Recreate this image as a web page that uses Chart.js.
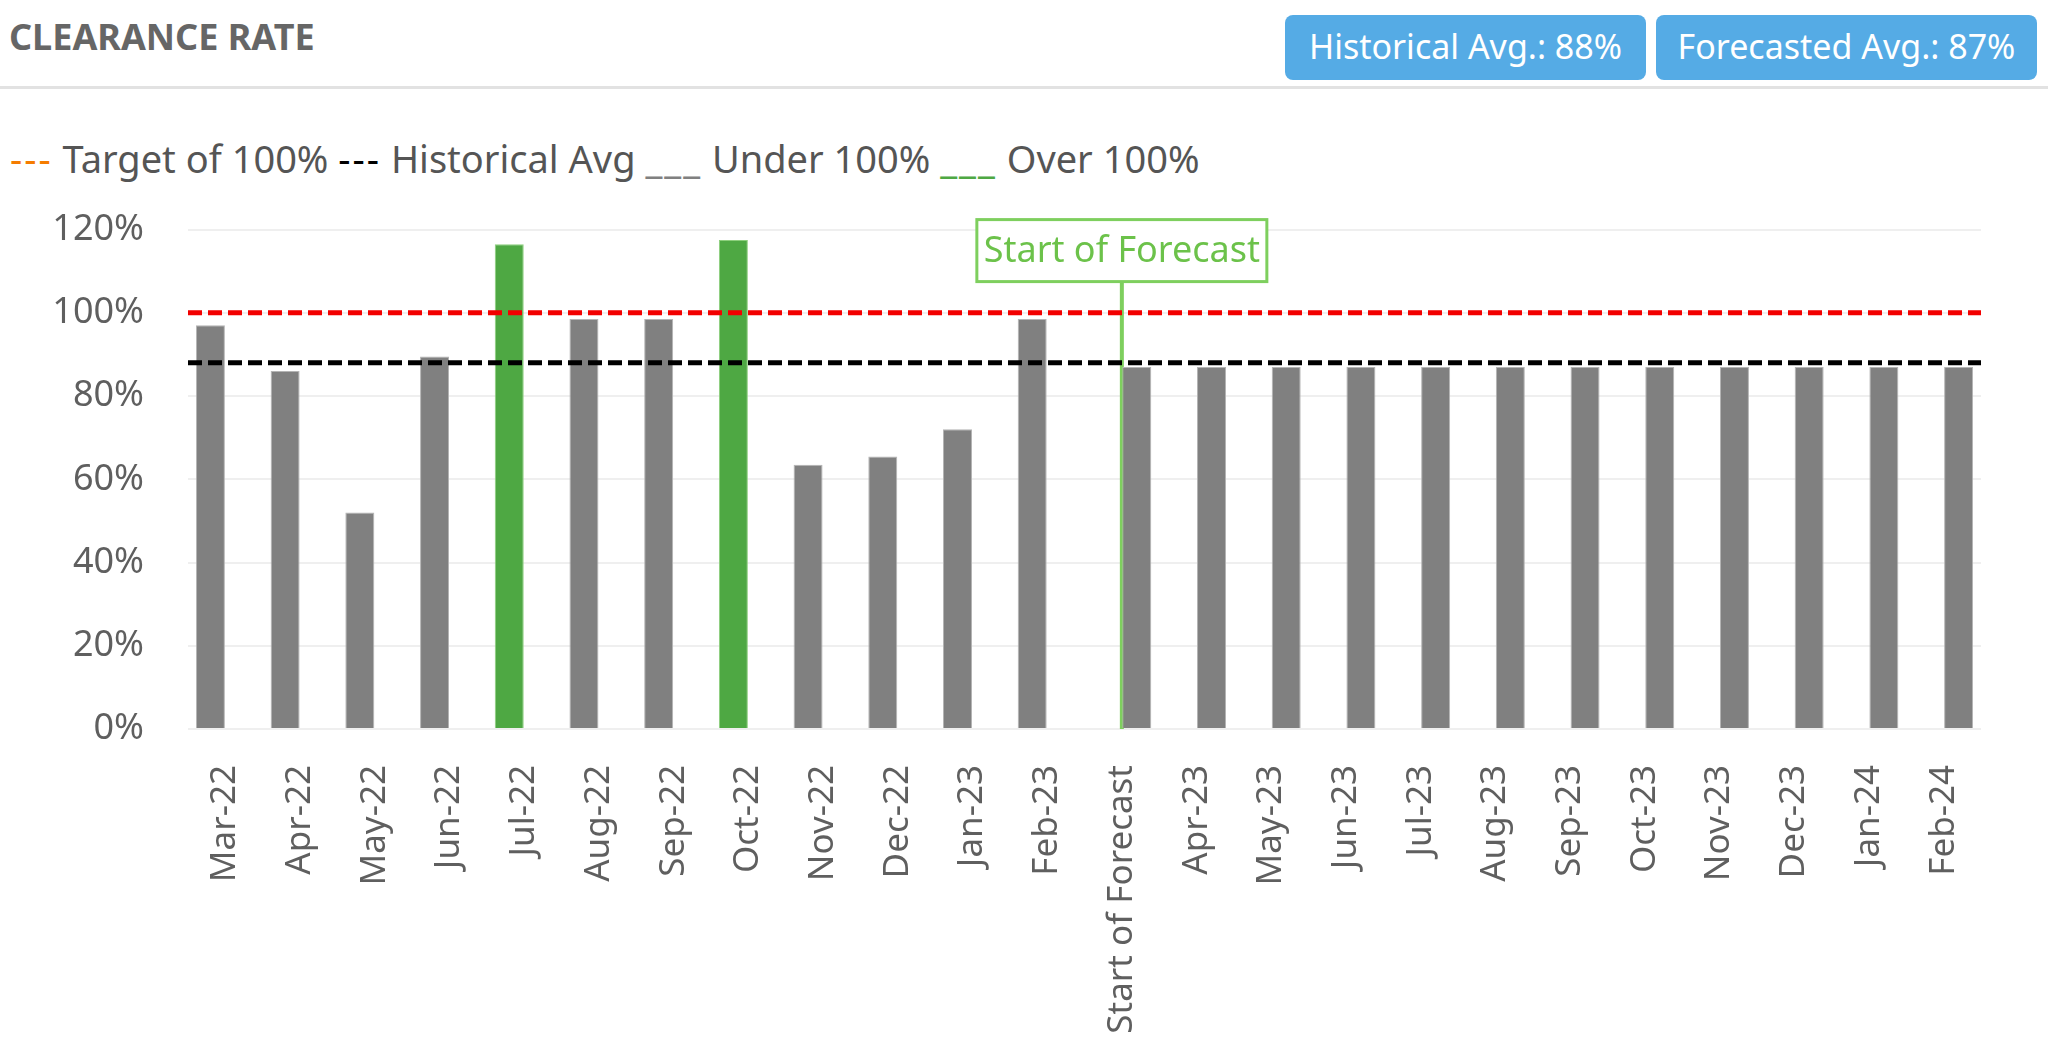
<!DOCTYPE html>
<html>
<head>
<meta charset="utf-8">
<script src="https://cdn.jsdelivr.net/npm/chart.js@4.4.0/dist/chart.umd.min.js"></script>
<style>
body{margin:0;background:#fff;font-family:"Noto Sans",sans-serif;width:2048px;height:1044px;overflow:hidden;position:relative;}
#head{position:absolute;left:0;top:0;width:2048px;height:86px;border-bottom:3px solid #e2e2e2;}
#title{position:absolute;left:9px;top:16px;font-size:36px;font-weight:700;color:#666;line-height:42px;}
.badge{position:absolute;top:15px;height:65px;background:#55abe5;color:#fff;border-radius:8px;font-size:34px;line-height:63px;text-align:center;}
#legend{position:absolute;left:10px;top:135px;font-size:38px;color:#555;white-space:nowrap;line-height:46px;}
#legend .k{letter-spacing:2px;}
#wrap{position:absolute;left:0;top:164px;width:2048px;height:880px;}
</style>
</head>
<body>
<div id="head">
  <div id="title">CLEARANCE RATE</div>
  <div class="badge" id="b1" style="left:1285px;width:361px;"></div>
  <div class="badge" id="b2" style="left:1656px;width:381px;"></div>
</div>
<div id="legend">
  <span class="k" style="color:#f57c00">---</span> Target of 100%
  <span class="k" style="color:#000">---</span> Historical Avg
  <span class="k" style="color:#808080">___</span> Under 100%
  <span class="k" style="color:#4ea843">___</span> Over 100%
</div>
<div id="wrap"><canvas id="chart" width="2048" height="880"></canvas></div>
<script>
'use strict';

const months = ['Mar-22','Apr-22','May-22','Jun-22','Jul-22','Aug-22','Sep-22','Oct-22','Nov-22','Dec-22','Jan-23','Feb-23',
                'Start of Forecast','Apr-23','May-23','Jun-23','Jul-23','Aug-23','Sep-23','Oct-23','Nov-23','Dec-23','Jan-24','Feb-24'];
const actual   = [97, 86, 52, 89.5, 116.5, 98.5, 98.5, 117.5, 63.5, 65.5, 72, 98.5,
                  null, null, null, null, null, null, null, null, null, null, null, null];
const forecast = [null, null, null, null, null, null, null, null, null, null, null, null,
                  87, 87, 87, 87, 87, 87, 87, 87, 87, 87, 87, 87];
const yTicks = [0, 20, 40, 60, 80, 100, 120];
const target = 100;
const historicalAvg = 88;
const forecastAvg = 87;
const forecastStart = 'Start of Forecast';

const gray = '#808080', green = '#4ea843', lineGreen = '#7ecf5e';

document.getElementById('b1').textContent = 'Historical Avg.: ' + historicalAvg + '%';
document.getElementById('b2').textContent = 'Forecasted Avg.: ' + forecastAvg + '%';

// dashed reference lines + start of forecast marker
const refLines = {
    id: 'refLines',
    beforeDatasetsDraw: function(chart){
        const ctx = chart.ctx, x = chart.scales.x, y = chart.scales.y;
        const px = x.getPixelForValue(months.indexOf(forecastStart));
        ctx.save();
        ctx.strokeStyle = lineGreen;
        ctx.lineWidth = 4;
        ctx.beginPath();
        ctx.moveTo(px, chart.chartArea.top + 52);
        ctx.lineTo(px, y.getPixelForValue(0));
        ctx.stroke();
        ctx.restore();
    },
    afterDatasetsDraw: function(chart){
        const ctx = chart.ctx, area = chart.chartArea, y = chart.scales.y;
        ctx.save();
        ctx.lineWidth = 5;
        ctx.setLineDash([14, 6]);
        [[target, '#f20000'], [historicalAvg, '#000']].forEach(function(l){
            const py = y.getPixelForValue(l[0]);
            ctx.strokeStyle = l[1];
            ctx.beginPath();
            ctx.moveTo(area.left, py);
            ctx.lineTo(area.right, py);
            ctx.stroke();
        });
        ctx.restore();

        // annotation box
        const px = chart.scales.x.getPixelForValue(months.indexOf(forecastStart));
        const w = 290, h = 62, top = area.top - 10;
        ctx.save();
        ctx.fillStyle = '#fff';
        ctx.fillRect(px - w / 2, top, w, h);
        ctx.strokeStyle = lineGreen;
        ctx.lineWidth = 3;
        ctx.strokeRect(px - w / 2, top, w, h);
        ctx.fillStyle = '#6cc24a';
        ctx.font = '36px "Noto Sans"';
        ctx.textAlign = 'center';
        ctx.textBaseline = 'middle';
        ctx.fillText(forecastStart, px, top + h / 2 + 1);
        ctx.restore();
    }
};

new Chart(document.getElementById('chart'), {
    type: 'bar',
    data: {
        labels: months,
        datasets: [
            {
                label: 'Actual',
                data: actual,
                backgroundColor: actual.map(v => v > target ? green : gray),
                borderColor: actual.map(v => v > target ? '#8ccf7c' : '#b4b4b4'),
                borderWidth: 1,
                categoryPercentage: 0.8,
                barPercentage: 0.97,
            },
            {
                label: 'Forecast',
                data: forecast,
                backgroundColor: gray,
                borderColor: '#b4b4b4',
                borderWidth: 1,
                categoryPercentage: 0.8,
                barPercentage: 0.97,
            },
        ],
    },
    options: {
        responsive: false,
        animation: false,
        devicePixelRatio: 1,
        layout: { padding: { top: 0, right: 67, left: 0, bottom: 0 } },
        plugins: { legend: { display: false }, tooltip: { enabled: false } },
        scales: {
            x: {
                grid: { display: false },
                border: { display: false },
                ticks: {
                    autoSkip: false, maxRotation: 90, minRotation: 90, padding: 28,
                    color: '#5f5f5f', font: { family: 'Noto Sans', size: 35 },
                },
                afterFit: function(s){ s.height = 315; },
            },
            y: {
                min: 0, max: 120,
                afterBuildTicks: function(s){ s.ticks = yTicks.map(v => ({ value: v })); },
                grid: { color: '#efefef', lineWidth: 2, drawTicks: false },
                border: { display: false },
                ticks: {
                    padding: 44, color: '#5f5f5f', font: { family: 'Noto Sans', size: 36 },
                    callback: v => v + '%',
                },
                afterFit: function(s){ s.width = 188; },
            },
        },
    },
    plugins: [refLines],
});
</script>
</body>
</html>
